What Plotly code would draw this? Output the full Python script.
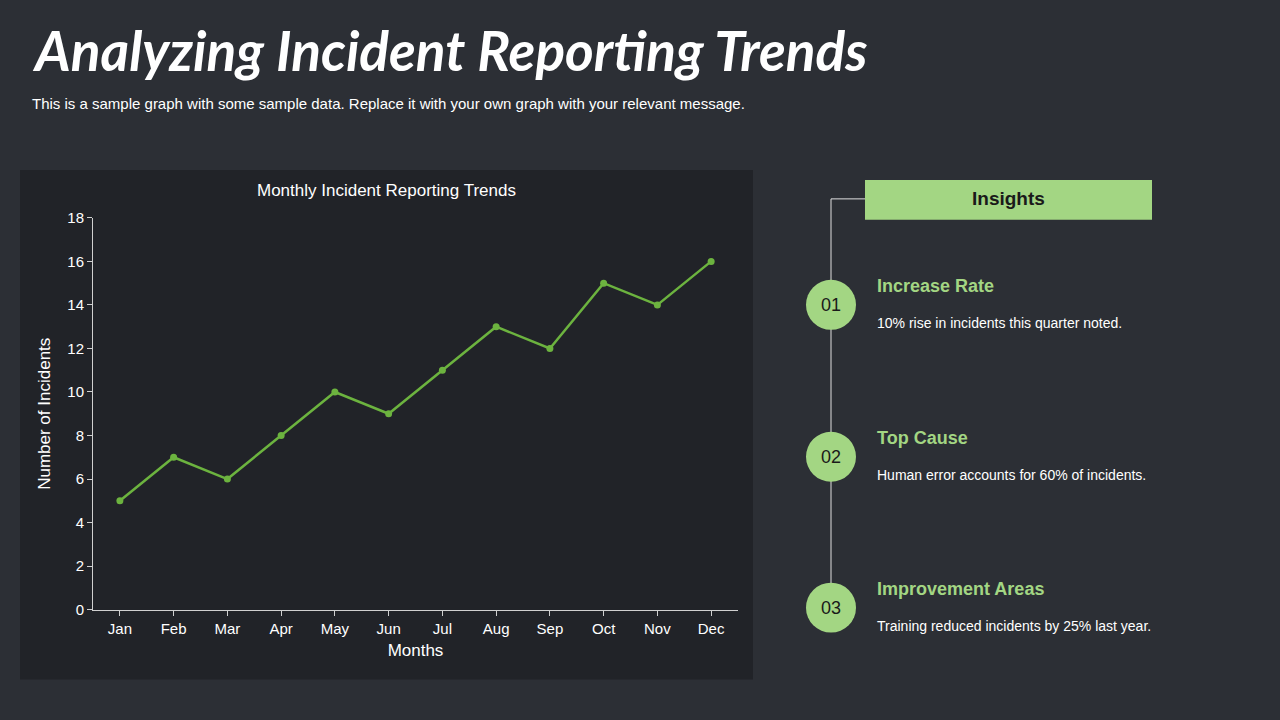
import plotly.graph_objects as go

months = ["Jan","Feb","Mar","Apr","May","Jun","Jul","Aug","Sep","Oct","Nov","Dec"]
incidents = [5,7,6,8,10,9,11,13,12,15,14,16]
insight_nums = ["01","02","03"]
insight_titles = ["Increase Rate","Top Cause","Improvement Areas"]
insight_texts = ["10% rise in incidents this quarter noted.",
                 "Human error accounts for 60% of incidents.",
                 "Training reduced incidents by 25% last year."]
insight_y = [305, 457, 608]

W, H = 1280, 720
def fx(px): return px / W
def fy(py):
    py = (py - 9) / 0.977   # compensate observed vertical render offset
    return 1 - py / H

GREEN = "#6cb33f"
LIGHT = "#a3d683"

def ann(text, x, y, size, color="white", xanchor="center", **font):
    return dict(text=text, x=fx(x), y=fy(y), xref="paper", yref="paper",
                xanchor=xanchor, yanchor="middle", showarrow=False,
                font=dict(family=font.pop("family", "Liberation Sans"), size=size, color=color, **font))

fig = go.Figure()
fig.add_trace(go.Scatter(x=months, y=incidents, mode="lines+markers",
                         line=dict(color=GREEN, width=2.5),
                         marker=dict(color=GREEN, size=7), showlegend=False))

shapes = [dict(type="rect", xref="paper", yref="paper", x0=fx(20), x1=fx(753),
               y0=fy(680), y1=fy(170), fillcolor="#212328", line_width=0, layer="below"),
          dict(type="line", xref="paper", yref="paper", x0=fx(831), x1=fx(831),
               y0=fy(610), y1=fy(199), line=dict(color="#e0e0e0", width=1)),
          dict(type="line", xref="paper", yref="paper", x0=fx(831), x1=fx(868),
               y0=fy(199), y1=fy(199), line=dict(color="#e0e0e0", width=1)),
          dict(type="rect", xref="paper", yref="paper", x0=fx(865), x1=fx(1152),
               y0=fy(220), y1=fy(180), fillcolor=LIGHT, line_width=0)]
annotations = [
    ann("Analyzing Incident Reporting Trends", 30, 50, 55, xanchor="left",
        family="Lato", style="italic", weight="bold"),
    ann("This is a sample graph with some sample data. Replace it with your own graph with your relevant message.",
        30, 104, 15, xanchor="left"),
    ann("Monthly Incident Reporting Trends", 386, 191, 17),
    ann("<b>Insights</b>", 1008, 199, 19, color="#1a1a1a"),
]
for n, t, d, cy in zip(insight_nums, insight_titles, insight_texts, insight_y):
    shapes.append(dict(type="circle", xref="paper", yref="paper", x0=fx(806), x1=fx(856),
                       y0=fy(cy+25), y1=fy(cy-25), fillcolor=LIGHT, line_width=0))
    annotations.append(ann(n, 831, cy, 18, color="#1a1a1a"))
    annotations.append(ann("<b>"+t+"</b>", 875, cy-19, 18, color=LIGHT, xanchor="left"))
    annotations.append(ann(d, 875, cy+18, 14, xanchor="left"))

fig.update_layout(
    width=W, height=H, margin=dict(l=0, r=0, t=0, b=0),
    paper_bgcolor="#2c2f35", plot_bgcolor="rgba(0,0,0,0)",
    shapes=shapes, annotations=annotations,
    font=dict(family="Liberation Sans", color="white"),
    xaxis=dict(domain=[fx(93), fx(738)], range=[-0.5, 11.5], showgrid=False,
               showline=True, linecolor="#d0d0d0", ticks="outside", tickcolor="#d0d0d0",
               tickfont=dict(size=15, color="white"),
               title=dict(text="Months", font=dict(size=17, color="white"), standoff=8)),
    yaxis=dict(domain=[fy(610), fy(218)], range=[0, 18], dtick=2, showgrid=False,
               showline=True, linecolor="#d0d0d0", ticks="outside", tickcolor="#d0d0d0",
               zeroline=False, tickfont=dict(size=15, color="white"),
               title=dict(text="Number of Incidents", font=dict(size=17, color="white"), standoff=12)),
)
fig.write_html("out.html", config={"displayModeBar": False})
with open("out.html", encoding="utf-8") as f:
    html = f.read()
html = html.replace("<head>", "<head><style>html,body{margin:0;padding:0;background:#2c2f35;overflow:hidden}</style>", 1)
with open("out.html", "w", encoding="utf-8") as f:
    f.write(html)
